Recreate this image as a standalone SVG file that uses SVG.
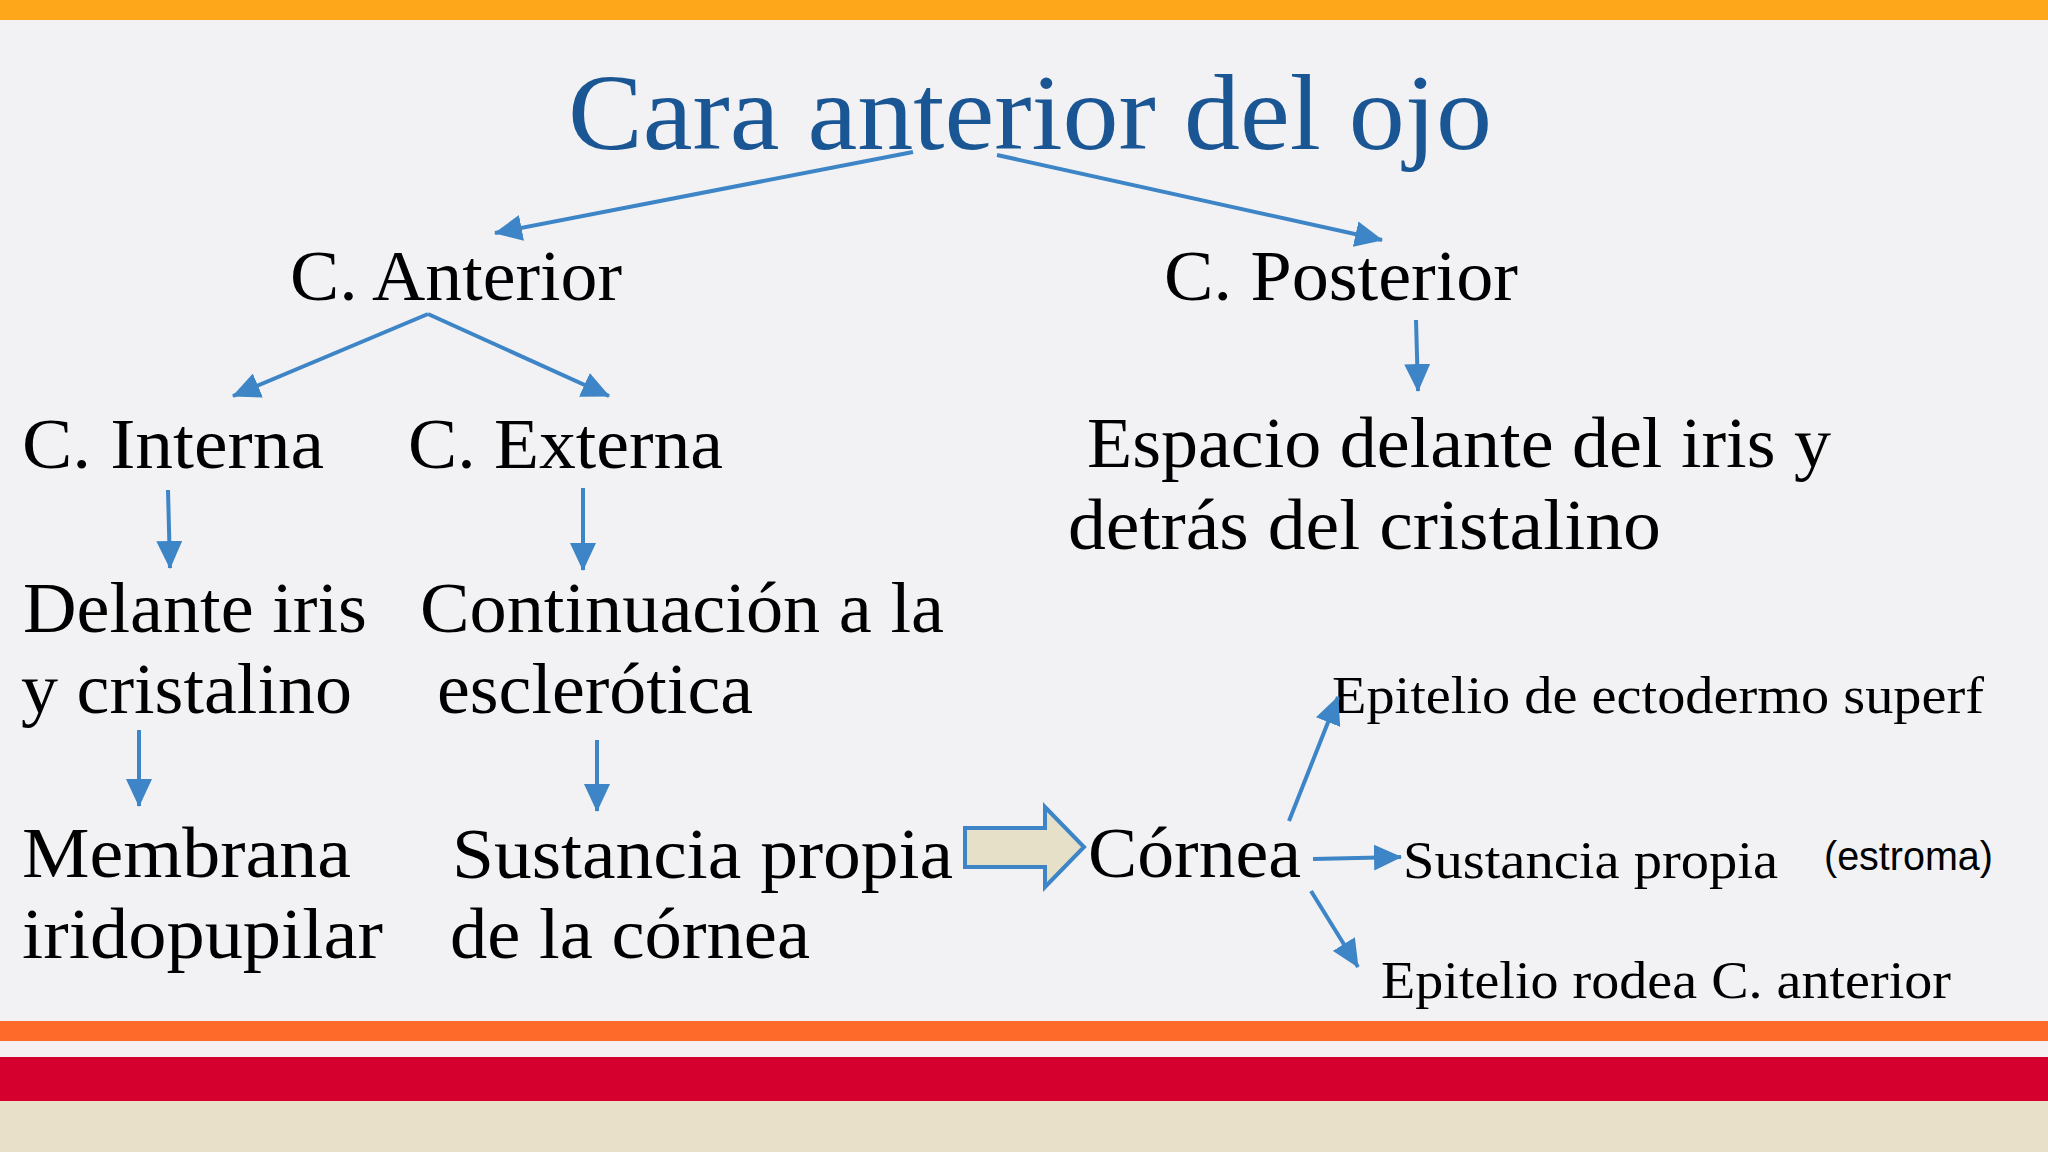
<svg xmlns="http://www.w3.org/2000/svg" width="2048" height="1152" viewBox="0 0 2048 1152">
<defs>
<marker id="ah" markerUnits="userSpaceOnUse" markerWidth="28" markerHeight="26" refX="27" refY="13" orient="auto">
<path d="M0,0 L28,13 L0,26 z" fill="#3D85C6"/>
</marker>
<style>
.t{font-family:"Liberation Serif","Times New Roman",serif;fill:#000;font-size:72px}
.s{font-family:"Liberation Serif","Times New Roman",serif;fill:#000;font-size:52px}
.title{font-family:"Liberation Serif","Times New Roman",serif;fill:#1B5694;font-size:109px}
.sans{font-family:"Liberation Sans",Arial,sans-serif;fill:#000;font-size:40px}
.c line{stroke:#3D85C6;stroke-width:4;marker-end:url(#ah)}
</style>
</defs>
<rect x="0" y="0" width="2048" height="1152" fill="#F2F2F4"/>
<rect x="0" y="0" width="2048" height="20" fill="#FEA71A"/>
<rect x="0" y="1021" width="2048" height="20" fill="#FD6A2A"/>
<rect x="0" y="1041" width="2048" height="16" fill="#F5F0F1"/>
<rect x="0" y="1057" width="2048" height="44" fill="#D5002E"/>
<rect x="0" y="1101" width="2048" height="51" fill="#E8E0C8"/>

<g id="title"><text class="title" x="568" y="149" textLength="924" lengthAdjust="spacingAndGlyphs">Cara anterior del ojo</text></g>
<g id="c-anterior"><text class="t" x="290" y="300" textLength="332" lengthAdjust="spacingAndGlyphs">C. Anterior</text></g>
<g id="c-posterior"><text class="t" x="1164" y="300" textLength="354" lengthAdjust="spacingAndGlyphs">C. Posterior</text></g>
<g id="c-interna"><text class="t" x="22" y="468" textLength="302" lengthAdjust="spacingAndGlyphs">C. Interna</text></g>
<g id="c-externa"><text class="t" x="408" y="468" textLength="315" lengthAdjust="spacingAndGlyphs">C. Externa</text></g>
<g id="espacio">
<text class="t" x="1087" y="467" textLength="744" lengthAdjust="spacingAndGlyphs">Espacio delante del iris y</text>
<text class="t" x="1068" y="549" textLength="593" lengthAdjust="spacingAndGlyphs">detrás del cristalino</text>
</g>
<g id="delante-iris">
<text class="t" x="23" y="632" textLength="344" lengthAdjust="spacingAndGlyphs">Delante iris</text>
<text class="t" x="21" y="713" textLength="331" lengthAdjust="spacingAndGlyphs">y cristalino</text>
</g>
<g id="continuacion">
<text class="t" x="420" y="632" textLength="524" lengthAdjust="spacingAndGlyphs">Continuación a la</text>
<text class="t" x="437" y="713" textLength="316" lengthAdjust="spacingAndGlyphs">esclerótica</text>
</g>
<g id="membrana">
<text class="t" x="22" y="877" textLength="329" lengthAdjust="spacingAndGlyphs">Membrana</text>
<text class="t" x="22" y="958" textLength="361" lengthAdjust="spacingAndGlyphs">iridopupilar</text>
</g>
<g id="sustancia-propia-cornea">
<text class="t" x="452" y="878" textLength="501" lengthAdjust="spacingAndGlyphs">Sustancia propia</text>
<text class="t" x="450" y="958" textLength="360" lengthAdjust="spacingAndGlyphs">de la córnea</text>
</g>
<g id="block-arrow"><polygon points="965,828 1045,828 1045,807 1084,847 1045,887 1045,867 965,867" fill="#E7E0C9" stroke="#3D85C6" stroke-width="4"/></g>
<g id="cornea"><text class="t" x="1088" y="877" textLength="213" lengthAdjust="spacingAndGlyphs">Córnea</text></g>
<g id="epitelio-ectodermo"><text class="s" x="1332" y="713" textLength="652" lengthAdjust="spacingAndGlyphs">Epitelio de ectodermo superf</text></g>
<g id="sustancia-propia">
<text class="s" x="1403" y="878" textLength="375" lengthAdjust="spacingAndGlyphs">Sustancia propia</text>
<text class="sans" x="1824" y="870" textLength="169" lengthAdjust="spacingAndGlyphs">(estroma)</text>
</g>
<g id="epitelio-rodea"><text class="s" x="1381" y="998" textLength="570" lengthAdjust="spacingAndGlyphs">Epitelio rodea C. anterior</text></g>

<g id="connectors" class="c">
<line x1="913" y1="152" x2="495" y2="233"/>
<line x1="997" y1="155" x2="1382" y2="240"/>
<line x1="428" y1="314" x2="233" y2="396"/>
<line x1="428" y1="314" x2="609" y2="396"/>
<line x1="1416" y1="320" x2="1418" y2="391"/>
<line x1="168" y1="490" x2="170" y2="568"/>
<line x1="583" y1="488" x2="583" y2="570"/>
<line x1="139" y1="730" x2="139" y2="806"/>
<line x1="597" y1="740" x2="597" y2="811"/>
<line x1="1289" y1="821" x2="1338" y2="697"/>
<line x1="1313" y1="859" x2="1401" y2="857"/>
<line x1="1311" y1="891" x2="1358" y2="967"/>
</g>
</svg>
